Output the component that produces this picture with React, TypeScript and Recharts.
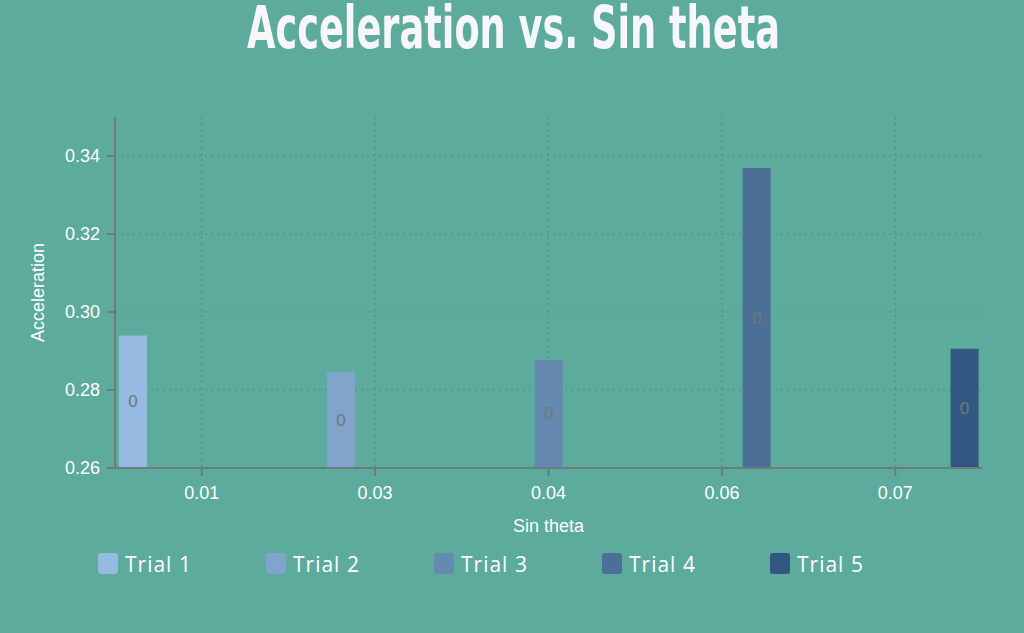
import React from "react";
import {
  BarChart,
  Bar,
  XAxis,
  YAxis,
  CartesianGrid,
  LabelList,
  Label,
} from "recharts";

// Sin theta categories and one trial per category
const SIN_THETA = ["0.01", "0.03", "0.04", "0.06", "0.07"];
const TRIAL_NAMES = ["Trial 1", "Trial 2", "Trial 3", "Trial 4", "Trial 5"];
const TRIAL_1 = [0.294, null, null, null, null];
const TRIAL_2 = [null, 0.2846, null, null, null];
const TRIAL_3 = [null, null, 0.2877, null, null];
const TRIAL_4 = [null, null, null, 0.3369, null];
const TRIAL_5 = [null, null, null, null, 0.2906];
const Y_TICKS = [0.26, 0.28, 0.3, 0.32, 0.34];

const TRIAL_COLORS = ["#97bae2", "#80a4cc", "#6689b1", "#4b6f96", "#325780"];
const BG = "#5cab9c";
const AXIS = "#6f7b78";
const TICK_FONT = "'Liberation Sans', Arial, sans-serif";

const trials = [TRIAL_1, TRIAL_2, TRIAL_3, TRIAL_4, TRIAL_5];
const rows = SIN_THETA.map((s, i) => {
  const row: Record<string, string | number | null> = { sinTheta: s };
  trials.forEach((t, k) => {
    row[`trial${k + 1}`] = t[i];
  });
  return row;
});

// "0" in the middle of each bar (value rounded to integer)
function barLabel(props: any) {
  const { x, y, width, height, value } = props;
  if (value == null) return null;
  return (
    <text
      x={x + width / 2}
      y={y + height / 2}
      textAnchor="middle"
      dominantBaseline="central"
      fill="#6f7877"
      style={{ fontSize: 17, fontFamily: TICK_FONT }}
    >
      {Math.round(value)}
    </text>
  );
}

export default function App() {
  return (
    <div
      style={{
        position: "fixed",
        left: 0,
        top: 0,
        width: 1024,
        height: 633,
        background: BG,
        overflow: "hidden",
      }}
    >
      <svg width={1024} height={60} style={{ position: "absolute", left: 0, top: 0 }}>
        <text
          x={247}
          y={48}
          textLength={533}
          lengthAdjust="spacingAndGlyphs"
          fill="#f7f7fb"
          style={{
            fontSize: 58,
            fontWeight: 700,
            fontFamily: "'Liberation Sans Narrow', 'DejaVu Sans Condensed', sans-serif",
          }}
        >
          Acceleration vs. Sin theta
        </text>
      </svg>

      <div style={{ position: "absolute", left: 0, top: 0 }}>
        <BarChart
          width={1024}
          height={545}
          data={rows}
          margin={{ top: 117, right: 42, left: 0, bottom: 0 }}
          barSize={28}
          barGap={6.5}
        >
          {/* syncWithTicks: no extra lines at the plot edges */}
          <CartesianGrid stroke="#4b8e81" strokeDasharray="2 4" syncWithTicks />
          <XAxis
            dataKey="sinTheta"
            height={77}
            stroke={AXIS}
            strokeWidth={2}
            tickSize={8}
            tickMargin={10}
            tick={{ fill: "#ffffff", fontSize: 18, fontFamily: TICK_FONT }}
          >
            <Label
              content={(p: any) => (
                <text
                  x={p.viewBox.x + p.viewBox.width / 2}
                  y={532}
                  textAnchor="middle"
                  fill="#ffffff"
                  style={{ fontSize: 18, fontFamily: TICK_FONT }}
                >
                  Sin theta
                </text>
              )}
            />
          </XAxis>
          <YAxis
            width={115}
            domain={[0.26, 0.35]}
            ticks={Y_TICKS}
            allowDataOverflow
            stroke={AXIS}
            strokeWidth={2}
            tickSize={8}
            tickMargin={7}
            tickFormatter={(v: number) => v.toFixed(2)}
            tick={{ fill: "#ffffff", fontSize: 18, fontFamily: TICK_FONT }}
          >
            <Label
              content={(p: any) => {
                const cy = p.viewBox.y + p.viewBox.height / 2;
                return (
                  <text
                    x={38}
                    y={cy}
                    transform={`rotate(-90, 38, ${cy})`}
                    textAnchor="middle"
                    dominantBaseline="central"
                    fill="#ffffff"
                    style={{ fontSize: 18, fontFamily: TICK_FONT }}
                  >
                    Acceleration
                  </text>
                );
              }}
            />
          </YAxis>
          {TRIAL_NAMES.map((name, k) => (
            <Bar
              key={name}
              name={name}
              dataKey={`trial${k + 1}`}
              fill={TRIAL_COLORS[k]}
              isAnimationActive={false}
            >
              <LabelList dataKey={`trial${k + 1}`} content={barLabel} />
            </Bar>
          ))}
        </BarChart>
      </div>

      {/* legend */}
      <div
        style={{
          position: "absolute",
          left: 98,
          top: 553,
          display: "flex",
          fontFamily: "'Open Sans', sans-serif",
          fontSize: 21,
          letterSpacing: 1,
          color: "#ffffff",
        }}
      >
        {TRIAL_NAMES.map((name, k) => (
          <div
            key={name}
            style={{ width: 168, display: "flex", alignItems: "center", height: 21 }}
          >
            <span
              style={{
                display: "inline-block",
                width: 20,
                height: 21,
                borderRadius: 3,
                background: TRIAL_COLORS[k],
                marginRight: 7,
              }}
            />
            <span>{name}</span>
          </div>
        ))}
      </div>
    </div>
  );
}
